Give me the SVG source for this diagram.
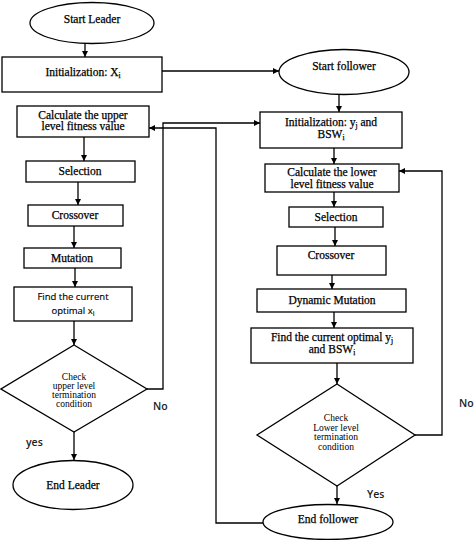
<svg xmlns="http://www.w3.org/2000/svg" width="474" height="540" viewBox="0 0 474 540">
<defs>
<marker id="ah" viewBox="0 0 10 10" refX="10" refY="5" markerWidth="6" markerHeight="6" orient="auto" markerUnits="userSpaceOnUse">
<path d="M0,0 L10,5 L0,10 z" fill="#000"/>
</marker>
<style>
.n{fill:#fff;stroke:#000;stroke-width:1.3}
.t{font-family:"Liberation Serif","Times New Roman",serif;font-size:11.5px;fill:#000;text-anchor:middle;stroke:#000;stroke-width:0.25}
.d{font-family:"Liberation Serif","Times New Roman",serif;font-size:9.5px;fill:#000;text-anchor:middle}
.s{font-family:"Open Sans","Liberation Sans",sans-serif;font-size:9.5px;fill:#000;text-anchor:middle;stroke:#000;stroke-width:0.15}
.l{font-family:"Open Sans","Liberation Sans",sans-serif;font-size:10.5px;font-weight:600;fill:#222}
.c{fill:none;stroke:#000;stroke-width:1.3}
.a{marker-end:url(#ah)}
</style>
</defs>
<rect width="474" height="540" fill="#fff"/>
<g id="connectors">
<line class="c a" x1="85" y1="43" x2="85" y2="57"/>
<line class="c a" x1="162" y1="71" x2="279" y2="71"/>
<line class="c a" x1="339" y1="94" x2="339" y2="112"/>
<line class="c a" x1="334" y1="148" x2="334" y2="164"/>
<line class="c a" x1="334" y1="192" x2="334" y2="207"/>
<line class="c a" x1="335" y1="227" x2="335" y2="246"/>
<line class="c a" x1="332" y1="275" x2="332" y2="289"/>
<line class="c a" x1="334" y1="312" x2="334" y2="328"/>
<line class="c a" x1="337" y1="363" x2="337" y2="384"/>
<line class="c a" x1="337" y1="486" x2="337" y2="504"/>
<polyline class="c a" points="415,435 442,435 442,171 399,171"/>
<polyline class="c a" points="263,523 216,523 216,128 149,128"/>
<polyline class="c a" points="147,389 163,389 163,123 260,123"/>
<line class="c a" x1="84" y1="137" x2="84" y2="161"/>
<line class="c a" x1="78" y1="182" x2="78" y2="205"/>
<line class="c a" x1="74" y1="226" x2="74" y2="248"/>
<line class="c a" x1="75" y1="268" x2="75" y2="287"/>
<line class="c a" x1="74" y1="321" x2="74" y2="345"/>
<line class="c a" x1="74" y1="432" x2="74" y2="460"/>
</g>
<g id="start-leader">
<ellipse class="n" cx="92" cy="23" rx="62" ry="20.5"/>
<text class="t" x="92" y="23">Start Leader</text>
</g>
<g id="init-x">
<rect class="n" x="2" y="57" width="160" height="35"/>
<text class="t" x="83" y="76">Initialization: X<tspan font-size="7.5" dy="2">i</tspan></text>
</g>
<g id="start-follower">
<ellipse class="n" cx="344" cy="72" rx="65" ry="22.5"/>
<text class="t" x="344" y="73" dy="-3">Start follower</text>
</g>
<g id="init-y">
<rect class="n" x="260" y="112" width="142" height="36"/>
<text class="t" x="331" y="126">Initialization: y<tspan font-size="7.5" dy="2">j</tspan><tspan dy="-2"> and</tspan></text>
<text class="t" x="331" y="138">BSW<tspan font-size="7.5" dy="2">i</tspan></text>
</g>
<g id="calc-upper">
<rect class="n" x="17" y="106" width="132" height="31"/>
<text class="t" x="83" y="119">Calculate the upper</text>
<text class="t" x="83" y="130">level fitness value</text>
</g>
<g id="selection-upper">
<rect class="n" x="26" y="161" width="109" height="21"/>
<text class="t" x="80" y="175">Selection</text>
</g>
<g id="crossover-upper">
<rect class="n" x="28" y="205" width="95" height="21"/>
<text class="t" x="75" y="219">Crossover</text>
</g>
<g id="mutation">
<rect class="n" x="24" y="248" width="97" height="20"/>
<text class="t" x="72" y="262">Mutation</text>
</g>
<g id="find-x">
<rect class="n" x="14" y="287" width="118" height="34"/>
<text class="s" x="73" y="300">Find the current</text>
<text class="s" x="73" y="314">optimal x<tspan font-size="7" dy="1.5">i</tspan></text>
</g>
<g id="check-upper">
<polygon class="n" points="74,345 147,389 74,432 1,389"/>
<text class="d" x="74" y="380">Check</text>
<text class="d" x="74" y="389">upper level</text>
<text class="d" x="74" y="398">termination</text>
<text class="d" x="74" y="407">condition</text>
</g>
<g id="end-leader">
<ellipse class="n" cx="73" cy="485" rx="60" ry="24.5"/>
<text class="t" x="73" y="489">End Leader</text>
</g>
<g id="calc-lower">
<rect class="n" x="265" y="164" width="134" height="28"/>
<text class="t" x="332" y="176">Calculate the lower</text>
<text class="t" x="332" y="188">level fitness value</text>
</g>
<g id="selection-lower">
<rect class="n" x="289" y="207" width="94" height="20"/>
<text class="t" x="336" y="221">Selection</text>
</g>
<g id="crossover-lower">
<rect class="n" x="277" y="246" width="109" height="29"/>
<text class="t" x="331" y="259">Crossover</text>
</g>
<g id="dynamic-mutation">
<rect class="n" x="257" y="289" width="149" height="23"/>
<text class="t" x="332" y="304">Dynamic Mutation</text>
</g>
<g id="find-y">
<rect class="n" x="251" y="328" width="162" height="35"/>
<text class="t" x="332" y="341">Find the current optimal y<tspan font-size="7.5" dy="2">j</tspan></text>
<text class="t" x="332" y="353">and BSW<tspan font-size="7.5" dy="2">i</tspan></text>
</g>
<g id="check-lower">
<polygon class="n" points="337,384 415,435 337,486 257,435"/>
<text class="d" x="336" y="421">Check</text>
<text class="d" x="336" y="431">Lower level</text>
<text class="d" x="336" y="440">termination</text>
<text class="d" x="336" y="450">condition</text>
</g>
<g id="end-follower">
<ellipse class="n" cx="328" cy="522" rx="65" ry="17.5"/>
<text class="t" x="328" y="523">End follower</text>
</g>
<g id="labels">
<text class="l" x="153" y="410">No</text>
<text class="l" x="26" y="446">yes</text>
<text class="l" x="459" y="407">No</text>
<text class="l" x="367" y="498">Yes</text>
</g>
</svg>
